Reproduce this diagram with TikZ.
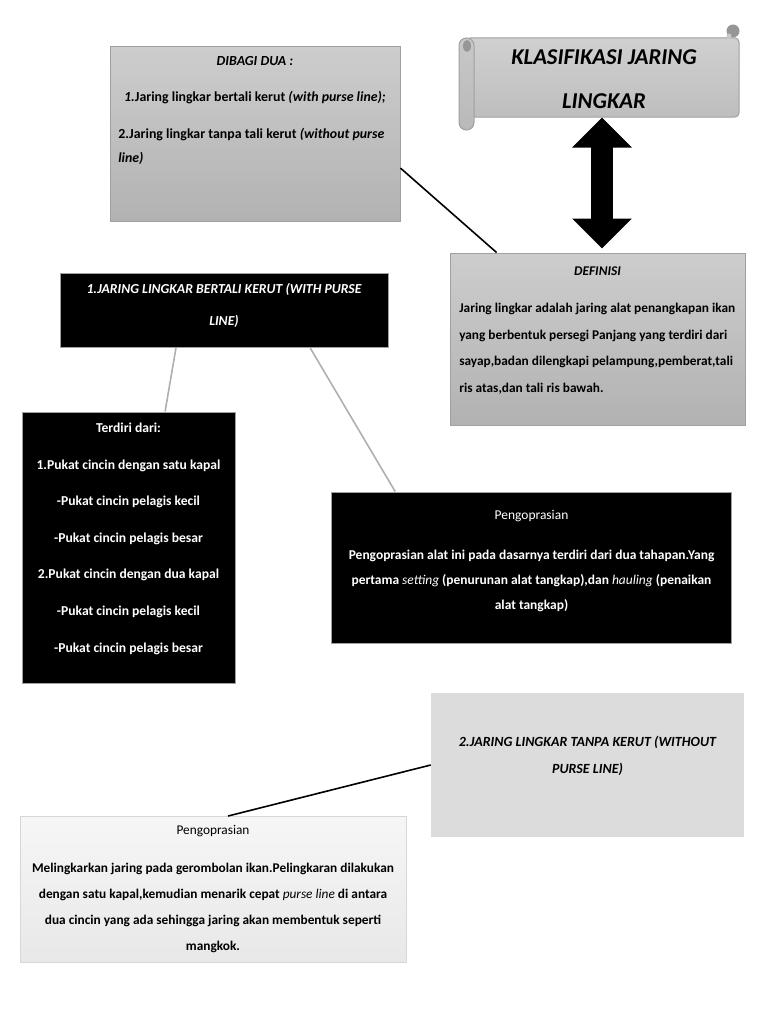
\documentclass[tikz,border=0pt]{standalone}
\usepackage{fontspec}
\setmainfont{Carlito}
\usetikzlibrary{calc,positioning,arrows.meta}
\definecolor{boxline}{RGB}{160,160,160}
\definecolor{linkgray}{RGB}{175,175,175}
\definecolor{curlgray}{RGB}{150,150,150}

\begin{document}
\begin{tikzpicture}[x=0.75pt,y=0.75pt,yscale=-1,xscale=1,
  graybox/.style={draw=boxline, line width=0.75, inner sep=0pt, top color={rgb,255:red,205;green,205;blue,205}, bottom color={rgb,255:red,178;green,178;blue,178}},
  darkbox/.style={draw=boxline, line width=0.75, inner sep=0pt, fill=black},
  txt/.style={inner sep=0pt, align=center, font=\fontsize{10}{19.5}\selectfont\bfseries},
  wtxt/.style={txt, text=white},
  link/.style={draw=linkgray, line width=1.2},
  blink/.style={draw=black, line width=1.2}]
\useasboundingbox (0,0) rectangle (768,1024);

%Shape: Scroll [id:title]
\node [graybox, rounded corners=3pt, minimum width=204.75pt, minimum height=59.25pt, top color={rgb,255:red,208;green,208;blue,208}, bottom color={rgb,255:red,190;green,190;blue,190}] (title) at (602.5,77.5) {};
\draw [graybox, rounded corners=5.5pt, top color={rgb,255:red,200;green,200;blue,200}, bottom color={rgb,255:red,185;green,185;blue,185}] (459,38) rectangle (474,130) ;
\fill [color=curlgray] (467,46) ellipse [x radius=4, y radius=6] ;
\fill [color=curlgray] (733,31) circle [radius=6.5] ;
\fill [color={rgb,255:red,200;green,200;blue,200}] (729,36) circle [radius=2.5] ;

%Shape: Rectangle [id:dibagi]
\node [graybox, minimum width=217.5pt, minimum height=130.5pt] (dibagi) at (255,134) {};
%Shape: Rectangle [id:definisi]
\node [graybox, minimum width=221.25pt, minimum height=129pt] (definisi) at (597.5,339) {};
%Shape: Rectangle [id:jlkone]
\node [darkbox, minimum width=246pt, minimum height=55.5pt] (jlkone) at (224,310.5) {};
%Shape: Rectangle [id:terdiri]
\node [darkbox, minimum width=159.75pt, minimum height=203.25pt] (terdiri) at (128.5,547.5) {};
%Shape: Rectangle [id:pengone]
\node [darkbox, minimum width=300pt, minimum height=113.25pt] (pengone) at (531.5,567.5) {};
%Shape: Rectangle [id:jlktwo]
\node [inner sep=0pt, fill={rgb,255:red,220;green,220;blue,220}, minimum width=234.75pt, minimum height=108pt] (jlktwo) at (587.5,765) {};
%Shape: Rectangle [id:pengtwo]
\node [draw={rgb,255:red,215;green,215;blue,215}, line width=0.75, inner sep=0pt, top color={rgb,255:red,246;green,246;blue,246}, bottom color={rgb,255:red,232;green,232;blue,232}, minimum width=289.5pt, minimum height=109.5pt] (pengtwo) at (213,889.5) {};

%Straight Lines [id:links]
\draw [blink] ($(dibagi.north east)!0.695!(dibagi.south east)$) -- ($(definisi.north west)!0.159!(definisi.north east)$) ;
\draw [link] ($(jlkone.south west)!0.354!(jlkone.south east)$) -- ($(terdiri.north west)!0.671!(terdiri.north east)$) ;
\draw [link] ($(jlkone.south west)!0.762!(jlkone.south east)$) -- ($(pengone.north west)!0.16!(pengone.north east)$) ;
\draw [blink] (jlktwo.west) -- ($(pengtwo.north west)!0.539!(pengtwo.north east)$) ;
%Double Arrow [id:bigarrow]
\coordinate (arrx) at (602,0) ;
\draw [line width=16.5pt, {Triangle[length=22.5pt,width=43.5pt]}-{Triangle[length=22.5pt,width=43.5pt]}, shorten >=3pt] (title.south -| arrx) -- (definisi.north -| arrx) ;

% Text Node
\node [txt, anchor=north, font=\fontsize{17}{33}\selectfont\bfseries\itshape] (titletext) at (604,49) {KLASIFIKASI JARING\\LINGKAR};
% Text Node
\node [txt, anchor=north, font=\fontsize{10.4}{27}\selectfont\bfseries] (dibagihead) at (255,56) {\textit{DIBAGI DUA :}\\\textit{1.}Jaring lingkar bertali kerut \textit{(with purse line);}};
% Text Node
\node [txt, anchor=north west, align=left, font=\fontsize{10.4}{18}\selectfont\bfseries] (dibagitwo) at (118,128) {2.Jaring lingkar tanpa tali kerut \textit{(without purse}\\\textit{line)}};
% Text Node
\node [txt, anchor=north] (defhead) at (597.5,267) {\textit{DEFINISI}};
% Text Node
\node [txt, anchor=north west, align=left, font=\fontsize{10}{20}\selectfont\bfseries] (deftext) at (459,303) {Jaring lingkar adalah jaring alat penangkapan ikan\\yang berbentuk persegi Panjang yang terdiri dari\\sayap,badan dilengkapi pelampung,pemberat,tali\\ris atas,dan tali ris bawah.};
% Text Node
\node [wtxt, anchor=north, font=\fontsize{10.3}{24}\selectfont\bfseries\itshape] (jlkonetext) at (224,283) {1.JARING LINGKAR BERTALI KERUT (WITH PURSE\\LINE)};
% Text Node
\node [wtxt, anchor=north, font=\fontsize{10.2}{27.4}\selectfont\bfseries] (terditext) at (128.5,423) {Terdiri dari:\\1.Pukat cincin dengan satu kapal\\-Pukat cincin pelagis kecil\\-Pukat cincin pelagis besar\\2.Pukat cincin dengan dua kapal\\-Pukat cincin pelagis kecil\\-Pukat cincin pelagis besar};
% Text Node
\node [wtxt, anchor=north, font=\fontsize{10.1}{18.75}\selectfont\bfseries] (pengonetext) at (531.5,510) {\mdseries Pengoprasian\\[11.25pt]Pengoprasian alat ini pada dasarnya terdiri dari dua tahapan.Yang\\pertama {\mdseries\itshape setting} (penurunan alat tangkap),dan {\mdseries\itshape hauling} (penaikan\\alat tangkap)};
% Text Node
\node [txt, anchor=north, font=\fontsize{10.5}{20.25}\selectfont\bfseries\itshape] (jlktwotext) at (587.5,736) {2.JARING LINGKAR TANPA KERUT (WITHOUT\\PURSE LINE)};
% Text Node
\node [txt, anchor=north, font=\fontsize{10}{19.5}\selectfont\bfseries] (pengtwotext) at (213,825) {\mdseries Pengoprasian\\[9pt]Melingkarkan jaring pada gerombolan ikan.Pelingkaran dilakukan\\dengan satu kapal,kemudian menarik cepat {\mdseries\itshape purse line} di antara\\dua cincin yang ada sehingga jaring akan membentuk seperti\\mangkok.};

\end{tikzpicture}
\end{document}
